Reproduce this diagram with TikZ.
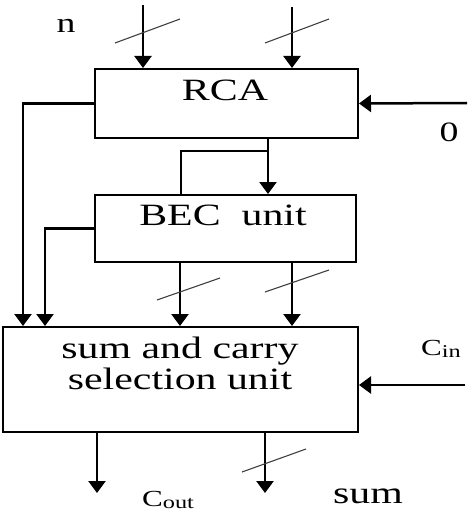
\documentclass[tikz,border=0pt]{standalone}
\usepackage{fontspec}
\setmainfont{Liberation Serif}[FakeStretch=1.35]
\usetikzlibrary{arrows.meta}
\begin{document}
\begin{tikzpicture}[x=1pt,y=-1pt,
    blk/.style={draw,line width=2pt,inner sep=0pt},
    wire/.style={line width=2.5pt},
    bus/.style={wire,-{Triangle[width=17pt,length=12pt]}},
    tick/.style={line width=1.1pt,black!75},
    txt/.style={font=\fontsize{31}{31}\selectfont,inner sep=0pt},
    lbl/.style={font=\fontsize{23}{24}\selectfont,inner sep=0pt},
    big/.style={font=\fontsize{28}{28}\selectfont,inner sep=0pt}]
    \useasboundingbox (0,0) rectangle (474,513);
    % blocks
    \node[blk,minimum width=263pt,minimum height=69pt] (rca) at (226.5,103.5) {};
    \node[blk,minimum width=261pt,minimum height=67pt] (bec) at (225.5,228.5) {};
    \node[blk,minimum width=355pt,minimum height=105pt] (sel) at (180.5,379.5) {};
    \node[txt] (rcat) at (225,90) {RCA};
    \node[txt] (bect) at (223,215) {BEC\ \ unit};
    \node[txt,align=center] (selt) at (180,363) {sum and carry\\selection unit};
    % labels
    \node[big,anchor=base] (nt) at (66,33) {n};
    \node[big,anchor=base] (zerot) at (449,142) {0};
    \node[lbl,anchor=base west] (cint) at (421,355) {C\raisebox{-2pt}{\fontsize{18}{18}\selectfont in}};
    \node[lbl,anchor=base west] (coutt) at (142,506) {C\raisebox{-2pt}{\fontsize{18}{18}\selectfont out}};
    \node[txt,anchor=base] (sumt) at (368,503) {sum};
    % end points
    \coordinate (in1) at (143,5);
    \coordinate (in2) at (292,7);
    \coordinate (zero) at (467,103);
    \coordinate (ra) at (23,0);
    \coordinate (rb) at (268,0);
    \coordinate (rc) at (181,151);
    \coordinate (ba) at (45,0);
    \coordinate (bo1) at (180,0);
    \coordinate (bo2) at (292,0);
    \coordinate (cinw) at (465,385);
    \coordinate (so1) at (97,493);
    \coordinate (so2) at (265,493);
    % wires
    \draw [bus] (in1) -- (in1 |- rca.north);
    \draw [bus] (in2) -- (in2 |- rca.north);
    \draw [bus] (zero) -- (rca.east);
    \draw [bus] (rca.west) -| (ra |- sel.north);
    \draw [bus] (rb |- rca.south) -- (rb |- bec.north);
    \draw [wire] (rb |- rc) -- (rc) -- (rc |- bec.north);
    \draw [bus] (bec.west) -| (ba |- sel.north);
    \draw [bus] (bo1 |- bec.south) -- (bo1 |- sel.north);
    \draw [bus] (bo2 |- bec.south) -- (bo2 |- sel.north);
    \draw [bus] (cinw) -- (cinw -| sel.east);
    \draw [bus] (so1 |- sel.south) -- (so1);
    \draw [bus] (so2 |- sel.south) -- (so2);
    % bus width marks
    \draw [tick] (115,43) -- (180,19);
    \draw [tick] (265,43) -- (329,19);
    \draw [tick] (157,300) -- (220,278);
    \draw [tick] (265,292) -- (329,270);
    \draw [tick] (242,472) -- (306,449);
\end{tikzpicture}
\end{document}
